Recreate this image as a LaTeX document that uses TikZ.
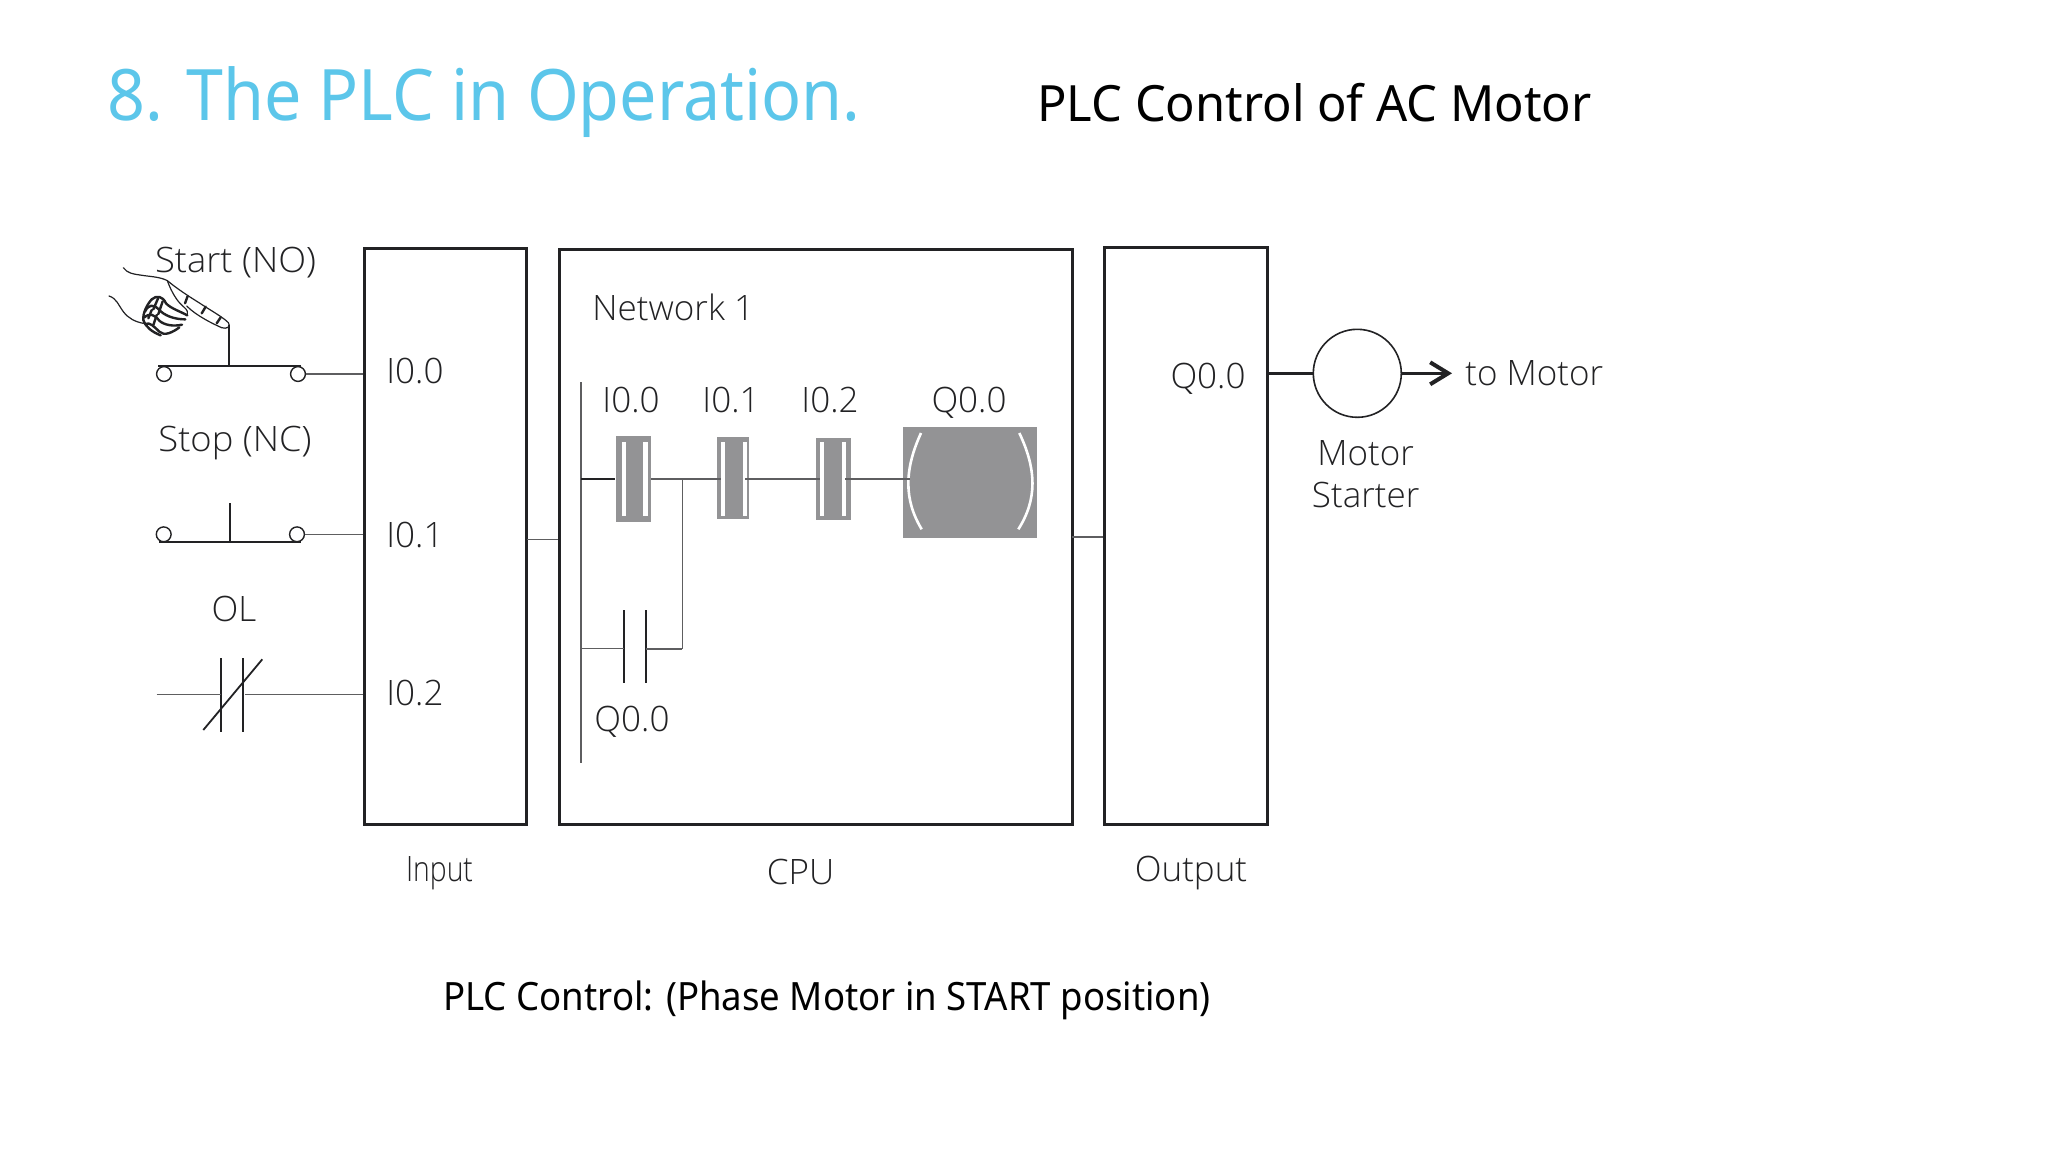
\documentclass[tikz,border=0pt]{standalone}
\usepackage{fontspec}
\usetikzlibrary{arrows.meta}
\setmainfont{Open Sans}
\newfontfamily\titlefont[FakeStretch=0.935]{Noto Sans}
\newfontfamily\subfont[FakeStretch=0.977]{Noto Sans}
\newfontfamily\capfont[FakeStretch=0.938]{Noto Sans}
\newfontfamily\lblfont{Open Sans Light}
\newfontfamily\lblwide[FakeStretch=1.04]{Open Sans Light}
\newfontfamily\lblnarrow[FakeStretch=0.81]{Open Sans Light}
\definecolor{titleblue}{HTML}{5CC6EA}
\definecolor{coilgray}{HTML}{939395}
\definecolor{inkdark}{HTML}{222224}
\definecolor{wiregray}{HTML}{5E5E60}
\tikzset{
  x=0.5pt,y=-0.5pt,
  plcbox/.style={draw=inkdark,line width=1.5pt,inner sep=0pt,fill=none},
  lbl/.style={font=\lblfont\fontsize{17.5}{20.8}\selectfont,text=inkdark,inner sep=0pt,anchor=base},
  lblw/.style={lbl,anchor=base west},
  wire/.style={draw=wiregray,line width=0.6pt},
  bar/.style={draw=inkdark,line width=0.9pt},
  heavy/.style={draw=inkdark,line width=1.4pt},
  grayblk/.style={fill=coilgray,draw=none,inner sep=0pt},
  slot/.style={fill=white,draw=none,inner sep=0pt,minimum width=2.1pt,minimum height=37.2pt},
  term/.style={circle,draw=inkdark,line width=0.7pt,fill=none,minimum size=7.4pt,inner sep=0pt},
  handln/.style={draw=inkdark,line width=0.6pt,line cap=round,line join=round},
  handbk/.style={draw=inkdark,line width=1.2pt,line cap=round,line join=round},
}
\begin{document}
\begin{tikzpicture}
\useasboundingbox[fill=white] (0,0) rectangle (2048,1152);
% headings
\node[font=\titlefont\fontsize{35.5}{40}\selectfont,text=titleblue,anchor=base west,inner sep=0pt] (title) at (107,120) {8. The PLC in Operation.};
\node[font=\subfont\fontsize{25}{30}\selectfont,text=black,anchor=base west,inner sep=0pt] (subtitle) at (1037,121) {PLC Control of AC Motor};
\node[font=\capfont\fontsize{19.5}{24}\selectfont,text=black,anchor=base west,inner sep=0pt] (caption) at (443,1010) {PLC Control: (Phase Motor in START position)};
% main boxes
\node[plcbox,minimum width=81pt,minimum height=288pt] (input) at (445.5,536) {};
\node[plcbox,minimum width=256.5pt,minimum height=287.5pt] (cpu) at (815.5,536.5) {};
\node[plcbox,minimum width=81.5pt,minimum height=288.5pt] (output) at (1185.5,535.5) {};
\node[lbl,font=\lblnarrow\fontsize{17.5}{20.8}\selectfont] (inputlbl) at (439.5,881) {Input};
\node[lbl] (cpulbl) at (800.6,884) {CPU};
\node[lbl] (outputlbl) at (1191,881) {Output};
% field labels
\node[lbl,font=\lblwide\fontsize{17.5}{20.8}\selectfont] (startlbl) at (235.5,272) {Start (NO)};
\node[lbl,font=\lblwide\fontsize{17.5}{20.8}\selectfont] (stoplbl) at (235,451.5) {Stop (NC)};
\node[lbl] (ollbl) at (234,621.7) {OL};
\node[lblw] (i0) at (386,383) {I0.0};
\node[lblw] (i1) at (386,547) {I0.1};
\node[lblw] (i2) at (386,705) {I0.2};
\node[lblw] (net) at (592,320) {Network 1};
\node[lbl] (li0) at (631,412) {I0.0};
\node[lbl] (li1) at (731,412) {I0.1};
\node[lbl] (li2) at (830,412) {I0.2};
\node[lbl] (lq0) at (969,412) {Q0.0};
\node[lbl] (lq0b) at (632,731) {Q0.0};
\node[lbl] (oq0) at (1208,388) {Q0.0};
\node[lblw] (tomotor) at (1465,385) {to Motor};
\node[lbl,anchor=center,align=center] (mstarter) at (1365.7,474) {Motor\\Starter};
% start switch
\node[term] (s1) at (164,374) {};
\node[term] (s2) at (298,374) {};
\coordinate (sbL) at (158,366);
\coordinate (sbR) at (301,366);
\coordinate (sbM) at (229,366);
\coordinate (fingertip) at (229,325);
\draw[bar] (sbL) -- (sbR);
\draw[bar] (sbM) -- (fingertip);
\draw[wire] (s2) -- (s2 -| input.west);
% stop switch
\node[term] (t1) at (163.7,534.3) {};
\node[term] (t2) at (297,534.3) {};
\coordinate (tbL) at (159,542);
\coordinate (tbR) at (301,542);
\coordinate (tbM) at (230,542);
\coordinate (tbT) at (230,502.7);
\draw[bar] (tbL) -- (tbR);
\draw[bar] (tbM) -- (tbT);
\draw[wire] (t2) -- (t2 -| input.west);
% OL contact
\coordinate (olA) at (221.3,658); \coordinate (olB) at (221.3,731.7);
\coordinate (olC) at (243,658);   \coordinate (olD) at (243,731.7);
\coordinate (olIn) at (156.7,694.7);
\coordinate (olL) at (221.3,694.7);
\coordinate (olR) at (245,694.7);
\coordinate (olE) at (203.3,730);  \coordinate (olF) at (262.3,659.3);
\draw[bar] (olA) -- (olB);
\draw[bar] (olC) -- (olD);
\draw[bar] (olE) -- (olF);
\draw[wire] (olIn) -- (olL);
\draw[wire] (olR) -- (olR -| input.west);
% box links
\coordinate (lnk1) at (526.5,539.5);
\coordinate (lnk2) at (1072,537);
\draw[wire] (lnk1) -- (lnk1 -| cpu.west);
\draw[wire] (lnk2) -- (lnk2 -| output.west);
% ladder rail
\coordinate (railT) at (581,382);
\coordinate (railB) at (581,763);
\coordinate (rung) at (581,479);
\coordinate (rung2) at (581,648.7);
\draw[wire] (railT) -- (railB);
% blocks
\node[grayblk,minimum width=17.7pt,minimum height=42.9pt] (b1) at (633.3,478.8) {};
\node[grayblk,minimum width=15.85pt,minimum height=41pt] (b2) at (733.1,478.3) {};
\node[grayblk,minimum width=17.35pt,minimum height=41pt] (b3) at (833.3,479.3) {};
\node[grayblk,minimum width=67pt,minimum height=55.5pt] (coil) at (970,482.2) {};
\node[slot] at (623.6,478.8) {};
\node[slot] at (645.4,478.8) {};
\node[slot] at (723.1,478.8) {};
\node[slot] at (744.8,478.8) {};
\node[slot] at (822,478.8) {};
\node[slot] at (843.8,478.8) {};
\draw[white,line width=1.3pt] (921,433) .. controls (904,470) and (904,500) .. (921.7,529.3);
\draw[white,line width=1.3pt] (1019.3,433) .. controls (1037,470) and (1037,500) .. (1018.3,529.3);
% rung wires
\coordinate (w1) at (721,479); \coordinate (w2) at (745,479); \coordinate (w3) at (820,479);
\coordinate (w4) at (845,479); \coordinate (w5) at (910,479);
\coordinate (jn) at (682.3,479);
\coordinate (jn2) at (682.3,649);
\draw[heavy] (rung) -- (b1.west |- rung);
\draw[wire] (b1.east |- jn) -- (w1);
\draw[wire] (w2) -- (w3);
\draw[wire] (w4) -- (w5);
\draw[wire] (jn) -- (jn2);
% parallel contact
\coordinate (pA) at (624,610); \coordinate (pB) at (624,683);
\coordinate (pC) at (645.7,610); \coordinate (pD) at (645.7,683);
\draw[heavy] (pA) -- (pB);
\draw[bar] (pC) -- (pD);
\draw[wire] (rung2) -- (pA |- rung2);
\draw[wire] (pC |- jn2) -- (jn2);
% motor starter
\node[circle,draw=inkdark,line width=0.8pt,minimum size=44pt,inner sep=0pt] (ms) at (1357.3,373.3) {};
\coordinate (arrowend) at (1452,373.3);
\draw[heavy] (output.east |- ms) -- (ms.west);
\draw[heavy,-{Straight Barb[length=9pt,width=11pt,line width=2pt]}] (ms.east) -- (arrowend);
% hand
\begin{scope}[shift={(90,230)},x=0.1667pt,y=-0.1667pt]
\draw[handln] (100,113) .. controls (112,130) and (130,132) .. (150,135) .. controls (180,140) and (210,140) .. (232,152) .. controls (260,175) and (290,195) .. (330,220) .. controls (360,240) and (400,262) .. (415,278) .. controls (424,290) and (410,298) .. (395,293) .. controls (370,282) and (320,258) .. (290,228);
\draw[handln] (57,198) .. controls (80,205) and (85,225) .. (100,245) .. controls (115,265) and (135,275) .. (160,280);
\draw[handln] (232,152) .. controls (240,175) and (255,205) .. (272,222) .. controls (285,235) and (295,240) .. (292,252);
\draw[handbk] (293,198) -- (285,220);
\draw[handbk] (347,230) -- (335,250);
\draw[handbk] (392,262) -- (380,280);
\draw[handbk] (185,208) .. controls (200,195) and (218,198) .. (228,220) .. controls (242,235) and (268,243) .. (292,256);
\draw[handbk] (165,245) .. controls (175,222) and (192,222) .. (208,240) .. controls (222,255) and (250,268) .. (286,268);
\draw[handbk] (163,262) .. controls (180,248) and (192,253) .. (208,272) .. controls (222,285) and (250,290) .. (276,284);
\draw[handbk] (165,282) .. controls (180,275) and (192,290) .. (208,305) .. controls (222,320) and (250,306) .. (268,292);
\draw[handbk] (185,208) .. controls (170,225) and (158,250) .. (160,270) .. controls (168,292) and (185,305) .. (212,316);
\draw[handbk] (205,203) -- (190,238) (218,214) -- (205,252) (185,240) -- (175,265) (200,255) -- (190,285);
\end{scope}
\end{tikzpicture}
\end{document}
